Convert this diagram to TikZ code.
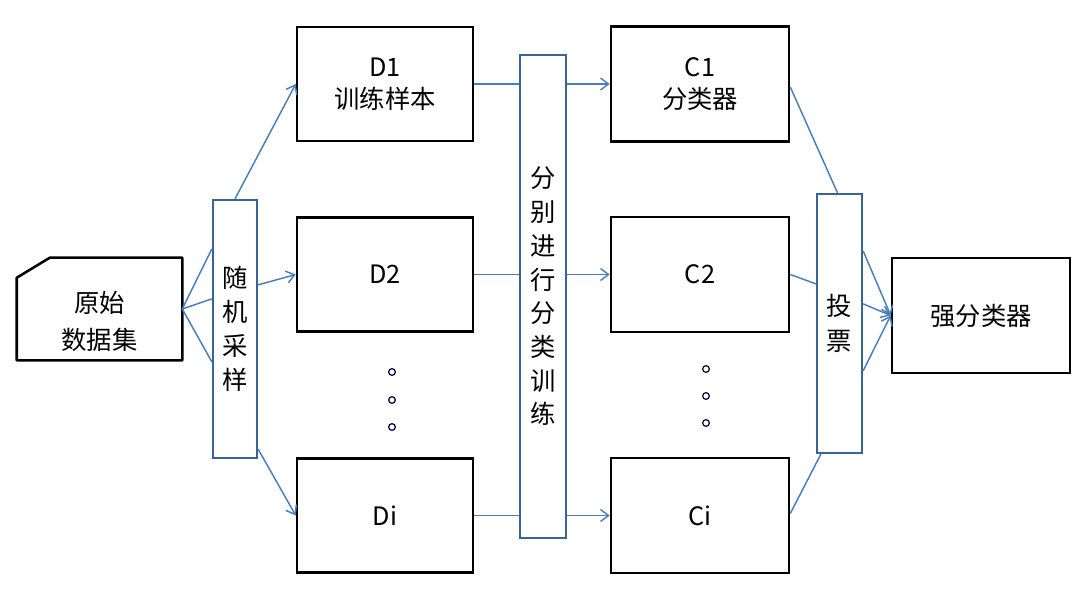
\documentclass[tikz,border=0pt]{standalone}
\usepackage{fontspec}
\setmainfont{Noto Sans CJK SC}
\usetikzlibrary{arrows.meta,calc}
\definecolor{lineblue}{HTML}{4A7EBB}
\definecolor{barblue}{HTML}{3B6496}
\begin{document}
\begin{tikzpicture}[x=0.75pt,y=-0.75pt,
  box/.style={draw=black,line width=1.9pt,fill=white,inner sep=0pt,align=center,
    font=\fontsize{19}{24}\selectfont},
  dbox/.style={box,minimum width=132pt,minimum height=85.5pt},
  cbox/.style={box,minimum width=133.5pt,minimum height=86.25pt},
  bar/.style={draw=barblue,line width=1.7pt,fill=white,inner sep=0pt,align=center},
  conn/.style={draw=lineblue,line width=1.1pt},
  arr/.style={conn,-{Straight Barb[length=6pt,width=9pt,line width=1.1pt]}},
  dotc/.style={circle,draw=black!75!blue,line width=0.9pt,minimum size=5pt,inner sep=0pt}]
\useasboundingbox (0,0) rectangle (1084,598);

% source card
\node[minimum width=123.75pt,minimum height=76.5pt,inner sep=0pt] (src) at (99.5,309) {};
\draw[line width=1.9pt,line join=round] ($(src.north west)+(0,20)$) -- ($(src.north west)+(33,0)$) -- (src.north east) -- (src.south east) -- (src.south west) -- cycle;
\node[align=center,font=\fontsize{19}{27.75}\selectfont] (srctext) at ($(src.center)+(0,12)$) {原始\\数据集};

% bars
\node[bar,minimum width=33pt,minimum height=193.5pt,font=\fontsize{19}{25.5}\selectfont] (rs) at (235,329) {随\\机\\采\\样};
\node[bar,minimum width=34.5pt,minimum height=362.25pt,font=\fontsize{19}{25.3}\selectfont] (train) at (543,296.5) {分\\别\\进\\行\\分\\类\\训\\练};
\node[bar,minimum width=33.75pt,minimum height=194.25pt,font=\fontsize{19}{26.25}\selectfont] (vote) at (839.5,323.5) {投\\票};

% D boxes
\node[dbox] (d1) at (385,84) {D1\\训练样本};
\node[dbox] (d2) at (385,274.5) {D2};
\node[dbox] (di) at (385,515.5) {Di};

% C boxes
\node[cbox] (c1) at (700,84) {C1\\分类器};
\node[cbox] (c2) at (700,274.5) {C2};
\node[cbox] (ci) at (700,515.5) {Ci};

% strong classifier
\node[cbox] (strong) at (981,315.5) {强分类器};

% dots
\node[dotc] (ld1) at (392,372) {};
\node[dotc] (ld2) at (392,400) {};
\node[dotc] (ld3) at (392,427) {};
\node[dotc] (rd1) at (706,369) {};
\node[dotc] (rd2) at (706,396) {};
\node[dotc] (rd3) at (706,423) {};

% source -> random sampling
\draw[conn] (src.east) -- ($(rs.north west)+(0,50)$);
\draw[conn] (src.east) -- ($(rs.north west)+(0,100)$);
\draw[conn] (src.east) -- ($(rs.north west)+(0,163)$);

% random sampling -> D
\draw[arr] (rs.north) -- (d1.west);
\draw[arr] ($(rs.north east)+(0,86)$) -- (d2.west);
\draw[arr] ($(rs.south east)+(0,-10)$) -- (di.west);

% D -> train -> C
\draw[conn] (d1.east) -- (d1.east -| train.west);
\draw[conn] (d2.east) -- (d2.east -| train.west);
\draw[conn] (di.east) -- (di.east -| train.west);
\draw[arr] (train.east |- c1.west) -- (c1.west);
\draw[arr] (train.east |- c2.west) -- (c2.west);
\draw[arr] (train.east |- ci.west) -- (ci.west);

% C -> vote
\draw[conn] ($(c1.east)+(0,3)$) -- ($(vote.north)+(-2,0)$);
\draw[conn] (c2.east) -- ($(vote.north west)+(0,91)$);
\draw[conn] ($(ci.east)+(0,-2)$) -- ($(vote.south west)+(5,0)$);

% vote -> strong
\draw[arr] ($(vote.north east)+(0,58)$) -- (strong.west);
\draw[arr] ($(vote.north east)+(0,111)$) -- (strong.west);
\draw[arr] ($(vote.north east)+(0,178)$) -- (strong.west);
\end{tikzpicture}
\end{document}
